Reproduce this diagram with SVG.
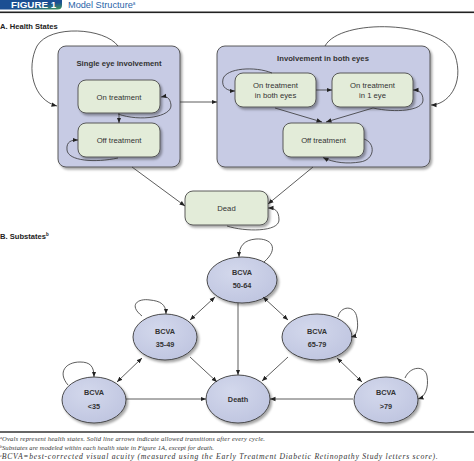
<svg xmlns="http://www.w3.org/2000/svg" width="474" height="461" viewBox="0 0 474 461">
<defs>
<style>
.box{fill:#c7cbe4;stroke:#4a4a4a;stroke-width:0.9}
.node{fill:#e3ecd9;stroke:#4a4a4a;stroke-width:0.9}
.ell{fill:url(#eg);stroke:#3a3a3a;stroke-width:0.9}
.t{font-family:"Liberation Sans",Arial,sans-serif;font-size:7.7px;fill:#333;text-anchor:middle}
.tb{font-family:"Liberation Sans",Arial,sans-serif;font-size:7.7px;font-weight:bold;fill:#333;text-anchor:middle}
.et{font-family:"Liberation Sans",Arial,sans-serif;font-size:7.3px;font-weight:bold;fill:#333;text-anchor:middle}
.sec{font-family:"Liberation Sans",Arial,sans-serif;font-size:7.6px;font-weight:bold;fill:#222}
.fn{font-family:"Liberation Serif","Times New Roman",serif;font-size:6.6px;font-style:italic;fill:#333}
.fn3{font-size:7.7px}
.sup{font-size:4px}
.c{fill:none;stroke:#333;stroke-width:0.8}
.a{marker-end:url(#ah)}
.d{marker-start:url(#ah);marker-end:url(#ah)}
</style>
<marker id="ah" viewBox="0 0 10 10" refX="10" refY="5" markerWidth="5.5" markerHeight="5.5" markerUnits="userSpaceOnUse" orient="auto-start-reverse"><path d="M0,1 L10,5 L0,9 z" fill="#222"/></marker>
<filter id="sh" x="-20%" y="-20%" width="140%" height="150%"><feDropShadow dx="1.8" dy="2.2" stdDeviation="1.3" flood-color="#000" flood-opacity="0.35"/></filter>
<linearGradient id="badge" x1="0" y1="0" x2="1" y2="1"><stop offset="0.6" stop-color="#1b4f93"/><stop offset="1" stop-color="#3f9a5a"/></linearGradient>
<radialGradient id="eg" cx="0.4" cy="0.35" r="0.7"><stop offset="0" stop-color="#d3d8ec"/><stop offset="1" stop-color="#bfc5e0"/></radialGradient>
</defs>
<rect width="474" height="461" fill="#fff"/>

<g id="header">
<path d="M0,0 H62 V5 Q62,9.5 57.5,9.5 H0 Z" fill="url(#badge)"/>
<text x="11" y="7.5" font-family="'Liberation Sans',Arial,sans-serif" font-size="9.8" font-weight="bold" fill="#fff">FIGURE 1</text>
<text x="68" y="7.8" font-family="'Liberation Sans',Arial,sans-serif" font-size="9.2" fill="#2a64a8">Model Structure<tspan font-size="4.5" dy="-3">a</tspan></text>
<rect x="0" y="11.5" width="474" height="1.6" fill="#222"/>
</g>

<text class="sec" x="0" y="28.5">A. Health States</text>

<g id="single-eye">
<rect class="box" x="58" y="46" width="122" height="121" rx="8" filter="url(#sh)"/>
<text class="tb" x="119" y="66">Single eye involvement</text>
</g>
<g id="single-on">
<rect class="node" x="78" y="80" width="82" height="33" rx="8" filter="url(#sh)"/>
<text class="t" x="119" y="99.5">On treatment</text>
</g>
<g id="single-off">
<rect class="node" x="78" y="123" width="82" height="34" rx="8" filter="url(#sh)"/>
<text class="t" x="119" y="143">Off treatment</text>
</g>

<g id="both-eyes">
<rect class="box" x="217" y="46" width="213" height="121" rx="8" filter="url(#sh)"/>
<text class="tb" x="323" y="61">Involvement in both eyes</text>
</g>
<g id="both-on">
<rect class="node" x="235" y="73" width="81" height="34" rx="8" filter="url(#sh)"/>
<text class="t" x="275.5" y="88">On treatment</text>
<text class="t" x="275.5" y="97.5">in both eyes</text>
</g>
<g id="one-on">
<rect class="node" x="332" y="73" width="81" height="34" rx="8" filter="url(#sh)"/>
<text class="t" x="372.5" y="88">On treatment</text>
<text class="t" x="372.5" y="97.5">in 1 eye</text>
</g>
<g id="both-off">
<rect class="node" x="283" y="123" width="81" height="34" rx="8" filter="url(#sh)"/>
<text class="t" x="323.5" y="142.5">Off treatment</text>
</g>

<g id="dead">
<rect class="node" x="185" y="191" width="83" height="34" rx="8" filter="url(#sh)"/>
<text class="t" x="226.5" y="211">Dead</text>
</g>

<text class="sec" x="0" y="238.5">B. Substates<tspan font-size="4.5" dy="-3">b</tspan></text>

<g id="bcva-50-64">
<ellipse class="ell" cx="242" cy="280" rx="35" ry="23" filter="url(#sh)"/>
<text class="et" x="242" y="275">BCVA</text>
<text class="et" x="242" y="288">50-64</text>
</g>
<g id="bcva-35-49">
<ellipse class="ell" cx="165" cy="337" rx="32" ry="23" filter="url(#sh)"/>
<text class="et" x="165" y="334">BCVA</text>
<text class="et" x="165" y="347">35-49</text>
</g>
<g id="bcva-65-79">
<ellipse class="ell" cx="317" cy="337" rx="35" ry="23" filter="url(#sh)"/>
<text class="et" x="317" y="334">BCVA</text>
<text class="et" x="317" y="347">65-79</text>
</g>
<g id="bcva-lt35">
<ellipse class="ell" cx="94" cy="400" rx="32" ry="23" filter="url(#sh)"/>
<text class="et" x="94" y="395">BCVA</text>
<text class="et" x="94" y="409">&lt;35</text>
</g>
<g id="death">
<ellipse class="ell" cx="238" cy="399" rx="32" ry="24" filter="url(#sh)"/>
<text class="et" x="238" y="402">Death</text>
</g>
<g id="bcva-gt79">
<ellipse class="ell" cx="386" cy="400" rx="32" ry="23" filter="url(#sh)"/>
<text class="et" x="386" y="395">BCVA</text>
<text class="et" x="386" y="409">&gt;79</text>
</g>

<g id="connectors">
<path class="c a" d="M119,113 L119,123"/>
<path class="c a" d="M118,114 C140,122 172,117 171,105 C170,97 166,96 161,97"/>
<path class="c a" d="M118,158 C95,163 68,161 67,150 C66,141 72,140 78,140"/>
<path class="c a" d="M118,46 C105,28 50,24 37,46 C26,68 33,100 57,106"/>
<path class="c a" d="M180,102 L217,102"/>
<path class="c a" d="M316,90 L332,90"/>
<path class="c a" d="M275,108 L322,122"/>
<path class="c a" d="M373,108 L326,122"/>
<path class="c a" d="M272,73 C255,66 226,68 223,79 C221,88 228,91 235,91"/>
<path class="c a" d="M373,108 C395,113 423,111 423,100 C423,92 418,90 413,90"/>
<path class="c a" d="M364,139 C376,143 375,160 360,162 C348,164 334,163 323,157.5"/>
<path class="c a" d="M325,46 C340,18 440,20 455,55 C465,85 447,105 431,105"/>
<path class="c a" d="M132,167 L185,206"/>
<path class="c a" d="M313,167 L268,204"/>
<path class="c a" d="M227,226 C245,232 279,232 279,220 C279,210 274,208 268,208"/>

<path class="c a" d="M264,262 C280,248 271,238 256,239 C244,240 239,246 239,257"/>
<path class="c a" d="M142,316 C128,305 138,298 150,300 C160,301 166,304 166,314"/>
<path class="c a" d="M338,317 C340,306 355,304 357,318 C359,330 356,336 351,337"/>
<path class="c a" d="M68,385 C57,372 66,362 80,362 C90,362 94,366 94,377"/>
<path class="c a" d="M405,378 C410,366 425,365 427,376 C429,388 425,397 418,399"/>
<path class="c d" d="M215,297 L190,320"/>
<path class="c d" d="M263,297 L288,320"/>
<path class="c a" d="M238,303 L238,375"/>
<path class="c d" d="M142,358 L117,382"/>
<path class="c a" d="M190,357 L217,382"/>
<path class="c a" d="M288,357 L262,381"/>
<path class="c d" d="M337,358 L362,382"/>
<path class="c a" d="M126,399 L206,399"/>
<path class="c a" d="M353,399 L270,399"/>
</g>

<g id="footnotes">
<rect x="0" y="431" width="474" height="2" fill="#666"/>
<text class="fn" x="0" y="441"><tspan class="sup" dy="-2.5">a</tspan><tspan dy="2.5" textLength="263">Ovals represent health states. Solid line arrows indicate allowed transitions after every cycle.</tspan></text>
<text class="fn" x="0" y="450"><tspan class="sup" dy="-2.5">b</tspan><tspan dy="2.5" textLength="212">Substates are modeled within each health state in Figure 1A, except for death.</tspan></text>
<text class="fn" x="0" y="459"><tspan class="sup" dy="-2.5">c</tspan><tspan class="fn3" dy="2.5" textLength="436">BCVA=best-corrected visual acuity (measured using the Early Treatment Diabetic Retinopathy Study letters score).</tspan></text>
</g>
</svg>
